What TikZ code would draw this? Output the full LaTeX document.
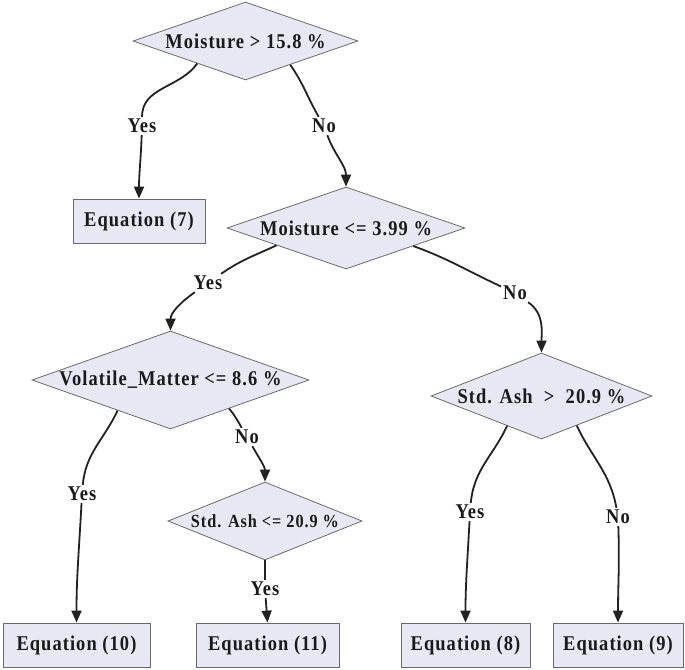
\documentclass[tikz,border=0pt]{standalone}
\usepackage{fontspec}
\setmainfont{Liberation Serif}[LetterSpace=5,FakeStretch=0.88]
\usetikzlibrary{shapes.geometric,arrows.meta}
\definecolor{boxfill}{HTML}{E8E8F4}
\definecolor{boxline}{HTML}{6A6A6A}
\definecolor{edgecol}{HTML}{222222}
\definecolor{txt}{HTML}{1A1A1A}
\tikzset{
  dec/.style={diamond, draw=boxline, fill=boxfill, line width=0.8pt, inner sep=0pt,
    text=txt, font=\fontsize{21}{23}\selectfont\bfseries},
  eqbox/.style={rectangle, draw=boxline, fill=boxfill, line width=0.8pt, minimum height=44pt,
    inner xsep=6pt, text=txt, font=\fontsize{21}{23}\selectfont\bfseries},
  elab/.style={text=txt, inner sep=2pt, font=\fontsize{21}{23}\selectfont\bfseries},
  conn/.style={draw=edgecol, line width=1.8pt},
  arr/.style={conn, -{Triangle[length=12pt,width=10pt]}}
}
\begin{document}
\begin{tikzpicture}[x=1pt,y=-1pt]
\useasboundingbox (0,0) rectangle (685,669);
% decisions
\node[dec, aspect=2.885, minimum width=225pt, minimum height=78pt] (d1) at (245.5,41) {Moisture > 15.8 \%};
\node[dec, aspect=2.9, minimum width=238pt, minimum height=82pt] (d2) at (346,228) {Moisture <= 3.99 \%};
\node[dec, aspect=2.83, minimum width=277pt, minimum height=98pt] (d3) at (170.5,380) {Volatile\_Matter <= 8.6 \%};
\node[dec, aspect=2.49, minimum width=194pt, minimum height=78pt, font=\fontsize{18.5}{20}\selectfont\bfseries] (d4) at (265,521) {Std. Ash <= 20.9 \%};
\node[dec, aspect=2.57, minimum width=221pt, minimum height=86pt] (d5) at (541.5,396) {Std. Ash \ > \ 20.9 \%};
% results
\node[eqbox, minimum width=132pt] (e7) at (139,221) {Equation (7)};
\node[eqbox, minimum width=147pt] (e10) at (76.5,645) {Equation (10)};
\node[eqbox, minimum width=143pt] (e11) at (267.5,645) {Equation (11)};
\node[eqbox, minimum width=129pt] (e8) at (465.5,645) {Equation (8)};
\node[eqbox, minimum width=130pt] (e9) at (618,645) {Equation (9)};
% edge labels
\node[elab] (y1) at (142,126) {Yes};
\node[elab] (n1) at (324,126) {No};
\node[elab] (y2) at (208,283) {Yes};
\node[elab] (n2) at (515,293) {No};
\node[elab] (y3) at (82,494) {Yes};
\node[elab] (n3) at (247,437) {No};
\node[elab] (y4) at (265,589) {Yes};
\node[elab] (y5) at (470,512) {Yes};
\node[elab] (n5) at (618,517) {No};
% connectors
\draw[conn] (d1.205) to[out=235,in=90] (y1);
\draw[arr] (y1) to[out=-92,in=90] (e7.north);
\draw[conn] (d1.332) to[out=-55,in=120] (n1);
\draw[arr] (n1) to[out=-70,in=90] (d2.north);
\draw[conn] (d2.194) to[out=205,in=35] (y2);
\draw[arr] (y2) to[out=215,in=90] (d3.north);
\draw[conn] (d2.345) to[out=-20,in=155] (n2);
\draw[arr] (n2) to[out=-35,in=90] (d5.north);
\draw[conn] (d3.210) to[out=245,in=85] (y3);
\draw[arr] (y3) to[out=-93,in=90] (e10.north);
\draw[conn] (d3.334) to[out=-50,in=120] (n3);
\draw[arr] (n3) to[out=-60,in=90] (d4.north);
\draw[conn] (d4.south) -- (y4);
\draw[arr] (y4) -- (e11.north);
\draw[conn] (d5.221) to[out=245,in=85] (y5);
\draw[arr] (y5) to[out=-93,in=90] (e8.north);
\draw[conn] (d5.320) to[out=-65,in=100] (n5);
\draw[arr] (n5) to[out=-88,in=90] (e9.north);
\end{tikzpicture}
\end{document}
